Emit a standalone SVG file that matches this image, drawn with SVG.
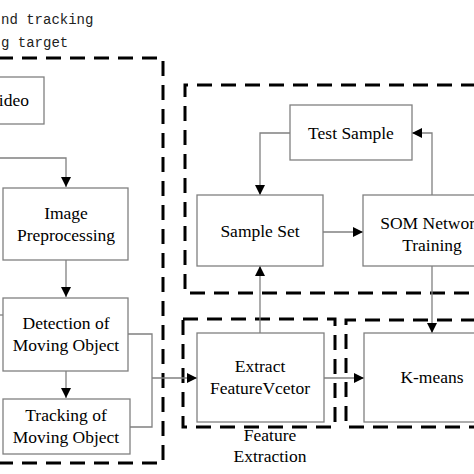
<svg xmlns="http://www.w3.org/2000/svg" width="474" height="474" viewBox="0 0 474 474">
<style>
.box{fill:#fff;stroke:#808080;stroke-width:1.3}
.grp{fill:none;stroke:#000;stroke-width:3;stroke-dasharray:15 9}
.con{fill:none;stroke:#808080;stroke-width:1.3}
.t{font-family:"Liberation Serif","Times New Roman",serif;font-size:17.5px;fill:#000;text-anchor:middle}
.m{font-family:"Liberation Mono","DejaVu Sans Mono",monospace;font-size:14px;fill:#222}
</style>
<defs>
<marker id="ah" viewBox="0 0 10 10" refX="10" refY="5" markerWidth="10" markerHeight="10" markerUnits="userSpaceOnUse" orient="auto">
<path d="M0,0 L10,5 L0,10 z" fill="#000"/>
</marker>
</defs>
<rect width="474" height="474" fill="#fff"/>
<text class="m" x="1" y="24">nd tracking</text>
<text class="m" x="1" y="47">g target</text>
<g id="groups">
<path class="grp" d="M-2,58 H163 V463 H-2"/>
<path class="grp" d="M476,85 H185 V293 H476"/>
<rect class="grp" x="183" y="319" width="152" height="108"/>
<path class="grp" d="M476,320 H346 V427 H476"/>
</g>
<g id="connectors">
<path class="con" d="M0,158 H66 V187" marker-end="url(#ah)"/>
<path class="con" d="M66,260 V297" marker-end="url(#ah)"/>
<path class="con" d="M66,371 V398" marker-end="url(#ah)"/>
<path class="con" d="M0,315 H3"/>
<path class="con" d="M128,334 H152 V427 H130"/>
<path class="con" d="M152,378 H197" marker-end="url(#ah)"/>
<path class="con" d="M290,133 H260 V195" marker-end="url(#ah)"/>
<path class="con" d="M432,195 V133 H412" marker-end="url(#ah)"/>
<path class="con" d="M323,232 H363" marker-end="url(#ah)"/>
<path class="con" d="M432,266 V333" marker-end="url(#ah)"/>
<path class="con" d="M260,333 V266" marker-end="url(#ah)"/>
<path class="con" d="M324,378 H364" marker-end="url(#ah)"/>
</g>
<g id="video">
<rect class="box" x="-5" y="77" width="49" height="47"/>
<text class="t" x="29" y="106" style="text-anchor:end">ideo</text>
</g>
<g id="image-preprocessing">
<rect class="box" x="3" y="188" width="125" height="72"/>
<text class="t" x="66" y="219">Image</text>
<text class="t" x="66" y="241">Preprocessing</text>
</g>
<g id="detection">
<rect class="box" x="3" y="298" width="125" height="73"/>
<text class="t" x="66" y="329">Detection of</text>
<text class="t" x="66" y="351">Moving Object</text>
</g>
<g id="tracking">
<rect class="box" x="3" y="399" width="127" height="55"/>
<text class="t" x="66" y="421">Tracking of</text>
<text class="t" x="66" y="443">Moving Object</text>
</g>
<g id="test-sample">
<rect class="box" x="290" y="105" width="122" height="55"/>
<text class="t" x="351" y="139">Test Sample</text>
</g>
<g id="sample-set">
<rect class="box" x="197" y="195" width="126" height="71"/>
<text class="t" x="260" y="237">Sample Set</text>
</g>
<g id="som">
<rect class="box" x="363" y="195" width="140" height="71"/>
<text class="t" x="432" y="229">SOM Network</text>
<text class="t" x="432" y="251">Training</text>
</g>
<g id="extract">
<rect class="box" x="197" y="333" width="127" height="89"/>
<text class="t" x="260" y="372">Extract</text>
<text class="t" x="260" y="394">FeatureVcetor</text>
</g>
<text class="t" x="270" y="441">Feature</text>
<text class="t" x="270" y="462">Extraction</text>
<g id="kmeans">
<rect class="box" x="364" y="333" width="140" height="89"/>
<text class="t" x="432" y="383">K-means</text>
</g>
</svg>
